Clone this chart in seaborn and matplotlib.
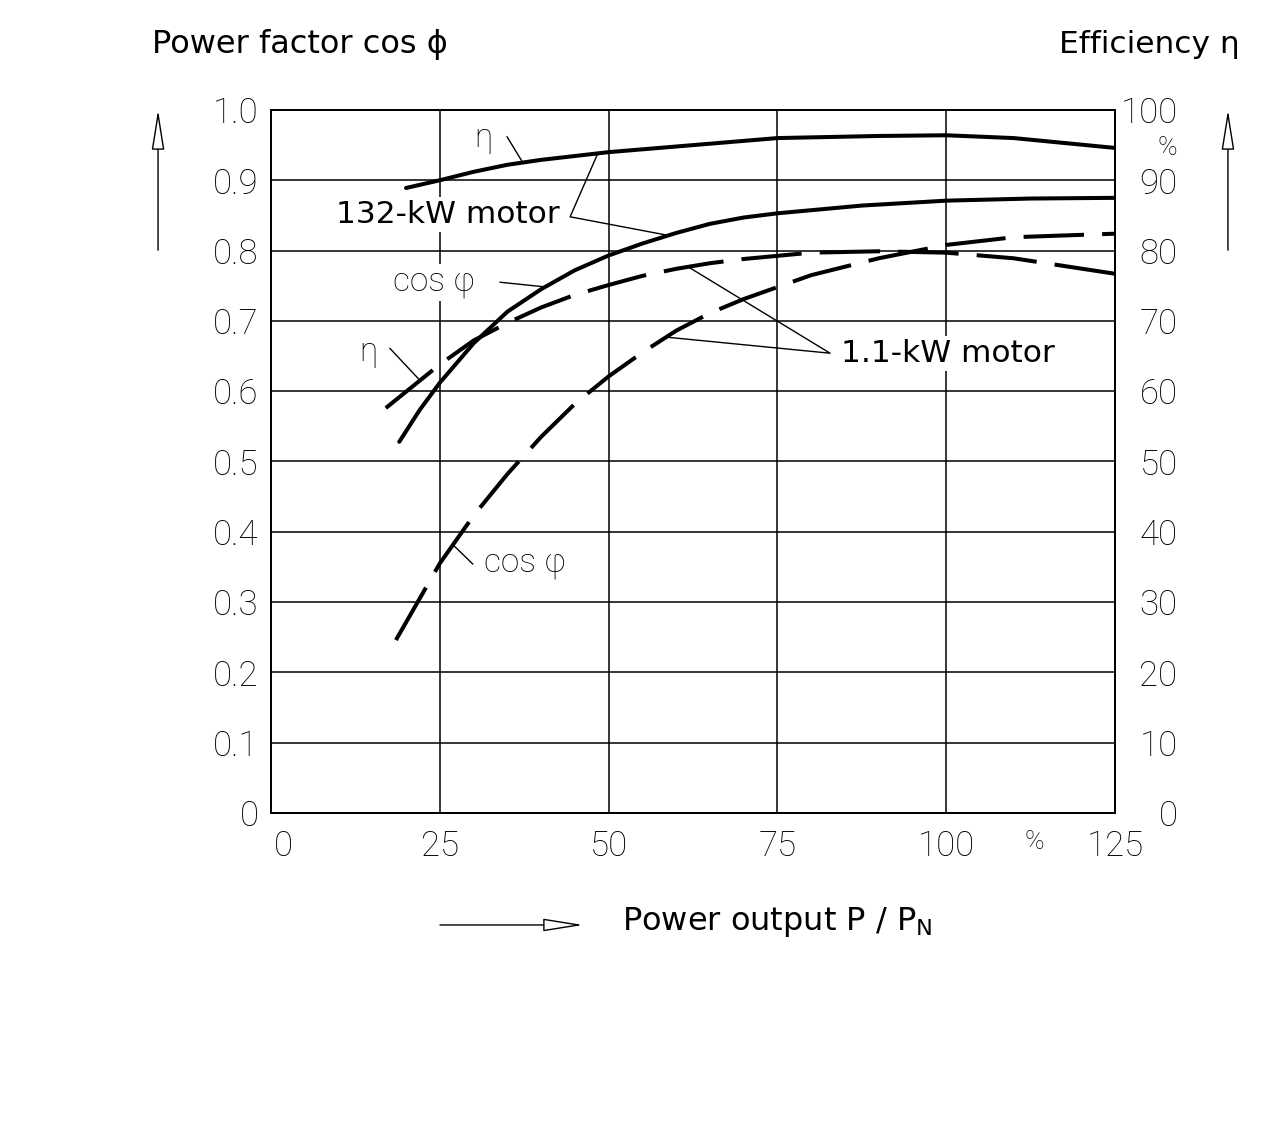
import matplotlib
matplotlib.use("Agg")
import matplotlib.pyplot as plt
import matplotlib.transforms as mtransforms
import seaborn as sns

# Values (load in % of rated output)
load_132_eta = [20, 25, 30, 35, 40, 50, 60, 75, 90, 100, 110, 125]
eta_132 = [88.9, 90.0, 91.2, 92.2, 92.9, 94.0, 94.8, 96.0, 96.3, 96.4, 96.0, 94.6]

load_132_cos = [19, 22, 25, 30, 35, 40, 45, 50, 55, 60, 65, 70, 75, 87.5, 100, 112.5, 125]
cos_132 = [0.528, 0.573, 0.612, 0.668, 0.713, 0.745, 0.772, 0.793, 0.810, 0.825,
           0.838, 0.847, 0.853, 0.864, 0.871, 0.874, 0.875]

load_11_eta = [17, 21, 25, 30, 35, 40, 45, 50, 55, 60, 65, 70, 80, 90, 100, 110, 125]
eta_11 = [57.6, 60.7, 63.8, 67.2, 69.7, 71.9, 73.7, 75.1, 76.4, 77.4, 78.2, 78.8,
          79.7, 79.9, 79.7, 78.9, 76.7]

load_11_cos = [18.5, 25, 30, 35, 40, 45, 50, 55, 60, 65, 70, 80, 90, 100, 110, 125]
cos_11 = [0.246, 0.355, 0.423, 0.482, 0.535, 0.582, 0.621, 0.655, 0.686, 0.711,
          0.731, 0.765, 0.789, 0.808, 0.819, 0.824]

x_ticks = [0, 25, 50, 75, 100, 125]
x_tick_labels = ["0", "25", "50", "75", "100", "125"]
cos_ticks = [0, 0.1, 0.2, 0.3, 0.4, 0.5, 0.6, 0.7, 0.8, 0.9, 1.0]
cos_tick_labels = ["0", "0.1", "0.2", "0.3", "0.4", "0.5", "0.6", "0.7", "0.8", "0.9", "1.0"]
eta_ticks = [0, 10, 20, 30, 40, 50, 60, 70, 80, 90, 100]
eta_tick_labels = ["0", "10", "20", "30", "40", "50", "60", "70", "80", "90", "100"]

sns.set_style("white")
plt.rcParams["font.family"] = ["DejaVu Sans"]
plt.rcParams["text.color"] = "black"
plt.rcParams["xtick.color"] = "black"
plt.rcParams["ytick.color"] = "black"
THIN = ["Roboto", "DejaVu Sans"]

fig = plt.figure(figsize=(12.85, 11.22), dpi=100)
ax = fig.add_axes([0.2109, 0.2754, 0.6568, 0.6266])
ax2 = ax.twinx()

LW = 2.9
DASH = (0, (15, 4.5))

# 132-kW motor: solid lines
sns.lineplot(x=load_132_eta, y=eta_132, ax=ax2, color="black", lw=LW)
sns.lineplot(x=load_132_cos, y=cos_132, ax=ax, color="black", lw=LW)
# 1.1-kW motor: dashed lines
sns.lineplot(x=load_11_eta, y=eta_11, ax=ax2, color="black", lw=LW, linestyle=DASH)
sns.lineplot(x=load_11_cos, y=cos_11, ax=ax, color="black", lw=LW, linestyle=DASH)

ax.set_xlim(0, 125)
ax.set_ylim(0, 1.0)
ax2.set_ylim(0, 100)

ax.set_xticks(x_ticks)
ax.set_xticklabels(x_tick_labels)
ax.set_xticks([113], minor=True)
ax.set_xticklabels(["%"], minor=True)
ax.set_yticks(cos_ticks)
ax.set_yticklabels(cos_tick_labels)
ax2.set_yticks(eta_ticks)
ax2.set_yticklabels(eta_tick_labels)
ax2.set_yticks([95], minor=True)
ax2.set_yticklabels(["%"], minor=True)

ax.grid(True, which="major", color="black", lw=1.1)
ax2.grid(False)
ax.tick_params(axis="x", which="both", length=0, pad=12, labelsize=25)
ax.tick_params(axis="y", length=0, pad=9, labelsize=25)
ax2.tick_params(axis="y", which="both", length=0, pad=45, labelsize=25)
for lab in ax.get_xticklabels(which="both") + ax.get_yticklabels() + ax2.get_yticklabels(which="both"):
    lab.set_family(THIN)
    lab.set_fontweight("light")
for lab in ax2.get_yticklabels(which="both"):
    lab.set_horizontalalignment("right")
ax.get_xticklabels()[0].set_transform(
    ax.get_xticklabels()[0].get_transform()
    + mtransforms.ScaledTranslation(12 / 100, 0, fig.dpi_scale_trans))
ax2.get_yticklabels(minor=True)[0].set_fontsize(19)
ax.get_xticklabels(minor=True)[0].set_fontsize(19)

for a in (ax, ax2):
    for sp in a.spines.values():
        sp.set_visible(True)
        sp.set_color("black")
        sp.set_linewidth(1.4)
ax.set_xlabel("")
ax.set_ylabel("")
ax2.set_ylabel("")

# curve labels
box = dict(facecolor="white", edgecolor="none", pad=2)
thin = dict(family=THIN, fontweight="light", fontsize=24)
ax.text(31.4, 0.960, "η", ha="center", va="center", **thin)
ax.text(9.6, 0.851, "132-kW motor", fontsize=22.5, ha="left", va="center", bbox=box)
ax.text(18.1, 0.755, "cos φ", ha="left", va="center", bbox=box, **thin)
ax.text(14.4, 0.656, "η", ha="center", va="center", **thin)
ax.text(84.4, 0.654, "1.1-kW motor", fontsize=22.5, ha="left", va="center", bbox=box)
ax.text(31.5, 0.356, "cos φ", ha="left", va="center", bbox=box, **thin)

# leader lines
leaders = [
    ([34.95, 37.3], [0.962, 0.925]),
    ([48.3, 44.3, 58.6], [0.936, 0.848, 0.822]),
    ([33.9, 40.9], [0.755, 0.748]),
    ([17.6, 21.9], [0.661, 0.617]),
    ([62.1, 82.8, 58.4], [0.775, 0.654, 0.677]),
    ([27.0, 29.9], [0.381, 0.354]),
]
for lx, ly in leaders:
    ax.plot(lx, ly, color="black", lw=1.0)

# axis titles
fig.text(0.118, 0.960, "Power factor cos ϕ", fontsize=23, ha="left", va="center")
fig.text(0.965, 0.960, "Efficiency η", fontsize=22.5, ha="right", va="center")
fig.text(0.484, 0.178, r"Power output P / P$_\mathrm{N}$", fontsize=23, ha="left", va="center")

# direction arrows
arrow = dict(arrowstyle="-|>,head_length=2.5,head_width=0.4", fc="white", ec="black",
             lw=1.0, shrinkA=0, shrinkB=0, mutation_scale=10)
fig.add_artist(matplotlib.patches.FancyArrowPatch((0.123, 0.777), (0.123, 0.902),
               transform=fig.transFigure, **arrow))
fig.add_artist(matplotlib.patches.FancyArrowPatch((0.9556, 0.777), (0.9556, 0.902),
               transform=fig.transFigure, **arrow))
fig.add_artist(matplotlib.patches.FancyArrowPatch((0.3424, 0.1756), (0.4537, 0.1756),
               transform=fig.transFigure, **arrow))

fig.savefig("out.png", dpi=100)
